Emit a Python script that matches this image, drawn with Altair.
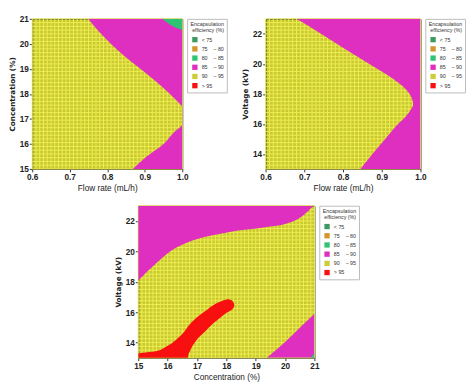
import altair as alt
import pandas as pd

# ---------------- tick labels ----------------
FLOW_TICKS = [0.6, 0.7, 0.8, 0.9, 1.0]
CONC_TICKS = [15, 16, 17, 18, 19, 20, 21]
VOLT_TICKS = [14, 16, 18, 20, 22]

# ---------------- legend categories ----------------
CATS = ["lt75", "75-80", "80-85", "85-90", "90-95", "gt95"]
CAT_COLORS = ["#3d9a63", "#d4952e", "#2fc474", "#de2fc0", "#cdcd3c", "#f81010"]
FS = "\u2007"
NBS = "\u00a0"
CAT_LABELS = [FS * 4 + "<" + NBS + "75",
              "75" + FS * 2 + "\u2013" + NBS + "80",
              "80" + FS * 2 + "\u2013" + NBS + "85",
              "85" + FS * 2 + "\u2013" + NBS + "90",
              "90" + FS * 2 + "\u2013" + NBS + "95",
              FS * 4 + ">" + NBS + "95"]
LEGEND_TITLE = ["Encapsulation", "efficiency (%)"]

# ---------------- panel 1: concentration vs flow rate ----------------
p1_mag_conc = [15, 15.5, 16, 16.5, 16.75, 17.0, 17.25, 17.5, 18, 18.5, 19, 19.5, 20, 20.5, 21]
p1_mag_flow = [0.868, 0.905, 0.95, 0.98, 1.0, 1.015, 1.015, 1.0, 0.967, 0.93, 0.889, 0.847, 0.81, 0.777, 0.749]
p1_grn_conc = [20.55, 20.7, 20.85, 21]
p1_grn_flow = [1.0, 0.975, 0.96, 0.947]

# ---------------- panel 2: voltage vs flow rate ----------------
p2_mag_volt = [13, 14, 15, 16, 16.5, 17, 17.3, 17.6, 18, 18.5, 19, 20, 21, 22, 23]
p2_mag_flow = [0.845, 0.876, 0.909, 0.942, 0.962, 0.976, 0.981, 0.979, 0.972, 0.955, 0.93, 0.868, 0.805, 0.744, 0.68]

# ---------------- panel 3: voltage vs concentration ----------------
p3_top_conc = [15, 15.63, 16.17, 16.71, 17.26, 17.8, 18.34, 18.88, 19.43, 19.97, 20.51, 20.78, 20.95, 21]
p3_top_volt = [18.08, 19.25, 20.1, 20.62, 20.94, 21.15, 21.36, 21.47, 21.62, 21.79, 22.21, 22.63, 22.95, 23.0]
p3_low_conc = [19.38, 20.0, 20.5, 21]
p3_low_volt = [13.0, 14.04, 14.97, 15.9]
p3_grn_conc = [20.86, 21]
p3_grn_volt = [13.0, 13.3]
p3_red_volt = [12.95, 13.28, 13.43, 13.75, 14.17, 14.38, 14.70, 15.23, 15.65, 15.97, 16.18, 16.45, 16.65, 16.80, 16.85]
p3_red_left = [15.0, 15.0, 15.6, 15.97, 16.28, 16.4, 16.56, 16.77, 16.99, 17.21, 17.36, 17.55, 17.74, 17.94, 18.03]
p3_red_right = [16.69, 16.72, 16.76, 16.84, 16.99, 17.08, 17.26, 17.54, 17.8, 18.02, 18.2, 18.27, 18.24, 18.16, 18.08]

NARROW = "'Liberation Sans Narrow', 'Liberation Sans', sans-serif"
BOLDY = "DejaVu Sans"
GRID_COLOR = "#eeee52"


def make_axis(majors, fmt, title, is_y):
    kw = dict(values=majors, format=fmt, labelFlush=False, grid=False, title=title)
    if is_y:
        kw.update(titleFont=BOLDY, titleFontSize=7.5, titleFontWeight="bold")
    else:
        kw.update(titleFont=NARROW, titleFontSize=8.5, titleFontWeight="normal")
    return alt.Axis(**kw)


def color_enc():
    label_map = "{" + ",".join("'%s':'%s'" % (c, l) for c, l in zip(CATS, CAT_LABELS)) + "}"
    return alt.Color("cat:N", scale=alt.Scale(domain=CATS, range=CAT_COLORS),
                     legend=alt.Legend(title=LEGEND_TITLE, labelExpr=label_map + "[datum.label]"))


def texture(lo, hi, step):
    # fine hatch of the "90-95" fill pattern (drawing texture only)
    n = int(round((hi - lo) / step))
    return [lo + k * step for k in range(n + 1)]


def grid_layers(xs, xa, xlo, xhi, xstep, ys, ya, ylo, yhi, ystep):
    gx = pd.DataFrame({"g": texture(xlo, xhi, xstep)})
    gy = pd.DataFrame({"g": texture(ylo, yhi, ystep)})
    vx = alt.Chart(gx).mark_rule(color=GRID_COLOR, strokeWidth=1).encode(
        x=alt.X("g:Q", scale=xs, axis=xa))
    hy = alt.Chart(gy).mark_rule(color=GRID_COLOR, strokeWidth=1).encode(
        y=alt.Y("g:Q", scale=ys, axis=ya))
    return [vx, hy]


def h_area(df, xf, yf, xscale, yscale, xaxis, yaxis, x2):
    return alt.Chart(df).mark_area(orient="horizontal", clip=True, interpolate="monotone").encode(
        y=alt.Y(yf + ":Q", scale=yscale, axis=yaxis),
        x=alt.X(xf + ":Q", scale=xscale, axis=xaxis),
        x2=alt.datum(x2),
        color=color_enc())


def v_area(df, xf, yf, xscale, yscale, xaxis, yaxis, y2):
    return alt.Chart(df).mark_area(orient="vertical", clip=True, interpolate="monotone").encode(
        x=alt.X(xf + ":Q", scale=xscale, axis=xaxis),
        y=alt.Y(yf + ":Q", scale=yscale, axis=yaxis),
        y2=alt.datum(y2),
        color=color_enc())


# ----- panel 1
fs1 = alt.Scale(domain=[0.6, 1.0], nice=False, zero=False)
cs1 = alt.Scale(domain=[15, 21], nice=False, zero=False)
fa1 = make_axis(FLOW_TICKS, ".1f", "Flow rate (mL/h)", False)
ca1 = make_axis(CONC_TICKS, "d", "Concentration (%)", True)
d1m = pd.DataFrame({"conc": p1_mag_conc, "flow": p1_mag_flow, "cat": "85-90"})
d1g = pd.DataFrame({"conc": p1_grn_conc, "flow": p1_grn_flow, "cat": "80-85"})
panel1 = alt.layer(
    *grid_layers(fs1, fa1, 0.6, 1.0, 0.01, cs1, ca1, 15, 21, 0.15),
    h_area(d1m, "flow", "conc", fs1, cs1, fa1, ca1, 1.0),
    h_area(d1g, "flow", "conc", fs1, cs1, fa1, ca1, 1.0),
).properties(width=155, height=155)

# ----- panel 2
fs2 = alt.Scale(domain=[0.6, 1.0], nice=False, zero=False)
vs2 = alt.Scale(domain=[13, 23], nice=False, zero=False)
fa2 = make_axis(FLOW_TICKS, ".1f", "Flow rate (mL/h)", False)
va2 = make_axis(VOLT_TICKS, "d", "Voltage (kV)", True)
d2m = pd.DataFrame({"volt": p2_mag_volt, "flow": p2_mag_flow, "cat": "85-90"})
panel2 = alt.layer(
    *grid_layers(fs2, fa2, 0.6, 1.0, 0.01, vs2, va2, 13, 23, 0.25),
    h_area(d2m, "flow", "volt", fs2, vs2, fa2, va2, 1.0),
).properties(width=160, height=155)

# ----- panel 3
cs3 = alt.Scale(domain=[15, 21], nice=False, zero=False)
vs3 = alt.Scale(domain=[13, 23], nice=False, zero=False)
ca3 = make_axis(CONC_TICKS, "d", "Concentration (%)", False)
va3 = make_axis(VOLT_TICKS, "d", "Voltage (kV)", True)
d3t = pd.DataFrame({"conc": p3_top_conc, "volt": p3_top_volt, "cat": "85-90"})
d3l = pd.DataFrame({"conc": p3_low_conc, "volt": p3_low_volt, "cat": "85-90"})
d3g = pd.DataFrame({"conc": p3_grn_conc, "volt": p3_grn_volt, "cat": "80-85"})
d3r = pd.DataFrame({"volt": p3_red_volt, "left": p3_red_left, "right": p3_red_right, "cat": "gt95"})
panel3 = alt.layer(
    *grid_layers(cs3, ca3, 15, 21, 0.125, vs3, va3, 13, 23, 0.25),
    v_area(d3t, "conc", "volt", cs3, vs3, ca3, va3, 23.0),
    v_area(d3l, "conc", "volt", cs3, vs3, ca3, va3, 13.0),
    v_area(d3g, "conc", "volt", cs3, vs3, ca3, va3, 13.0),
    alt.Chart(d3r).mark_area(orient="horizontal", clip=True, interpolate="monotone").encode(
        y=alt.Y("volt:Q", scale=vs3, axis=va3),
        x=alt.X("left:Q", scale=cs3, axis=ca3),
        x2=alt.X2("right"),
        color=color_enc()),
).properties(width=182, height=157)

top = alt.hconcat(panel1, panel2, spacing=14).resolve_scale(color="independent")
chart = alt.vconcat(top, panel3, spacing=12, center=True).resolve_scale(
    color="independent").properties(padding={"left": 0, "top": 0, "right": 0, "bottom": 0})

chart = chart.configure_view(fill="#c9c932", stroke="#333333", strokeWidth=1).configure_axis(
    labelFont=NARROW, labelFontSize=8.5, labelFontWeight="bold", labelColor="#222222",
    labelPadding=1, tickColor="#333333", tickSize=3, tickWidth=1, domain=False,
    titleColor="#222222", titlePadding=3,
).configure_legend(
    orient="right", offset=5, padding=3, strokeColor="#bbbbbb", fillColor="white",
    titleFont="Liberation Sans", titleFontSize=5.5, titleFontWeight="normal", titleColor="#333333",
    titleAlign="right", titleAnchor="end", titleLineHeight=7, titlePadding=3,
    labelFont="Liberation Sans", labelFontSize=5.5, labelColor="#333333", labelOffset=4,
    symbolType="square", symbolSize=30, symbolStrokeWidth=0, rowPadding=2.5,
)

chart.save("out.html", embed_options={"renderer": "svg", "actions": False})
